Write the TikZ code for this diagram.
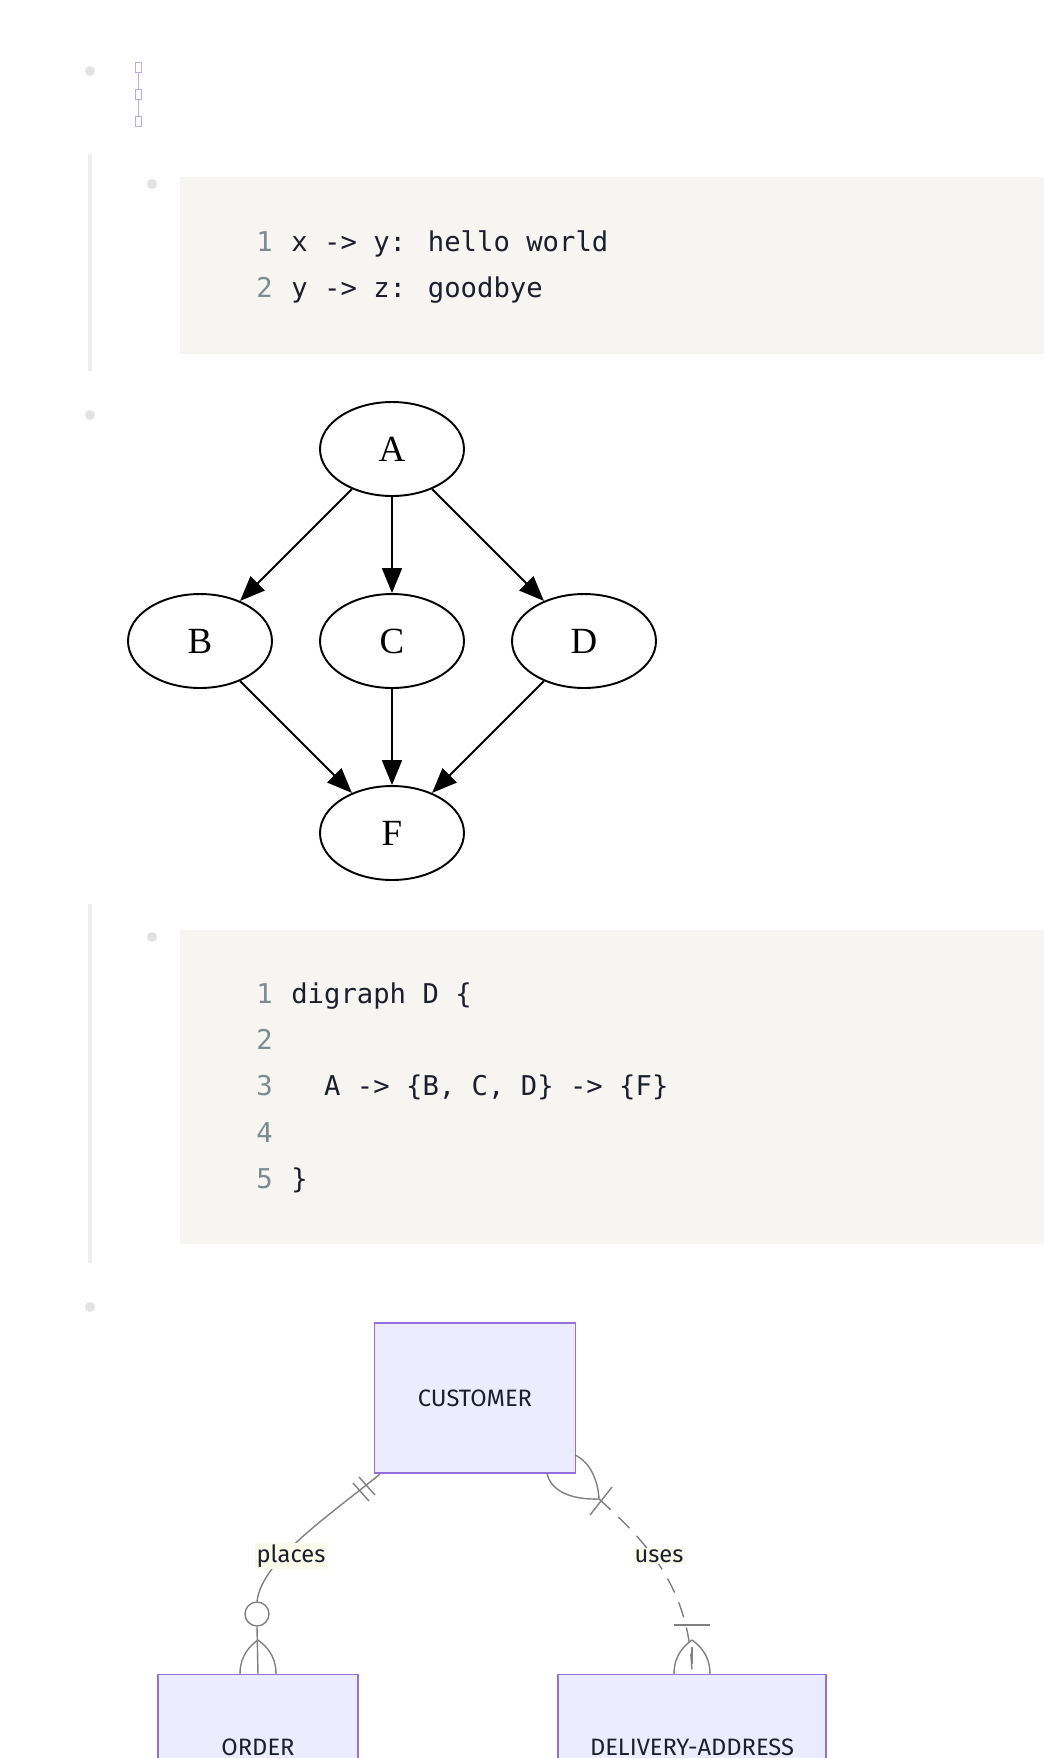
\documentclass[tikz,border=0pt]{standalone}
\usepackage{fontspec}
\setmainfont{Liberation Serif}
\newfontfamily\codefont{DejaVu Sans Mono}
\newfontfamily\erfont{Fira Sans}
\usetikzlibrary{arrows.meta,shapes.geometric}
\definecolor{codebg}{HTML}{F6F5F2}
\definecolor{lineno}{HTML}{7D8B8F}
\definecolor{codetxt}{HTML}{1A1F2B}
\definecolor{dotgrey}{HTML}{E2E2E2}
\definecolor{barc}{HTML}{EEEEEE}
\definecolor{erfill}{HTML}{ECECFF}
\definecolor{erline}{HTML}{9370DB}
\definecolor{relc}{HTML}{808080}
\definecolor{lblbg}{HTML}{FBFBEC}
\tikzset{
  bullet/.style={circle, fill=dotgrey, inner sep=0pt, minimum size=0.2cm},
  codeline/.style={anchor=base west, inner sep=0pt, font=\codefont\fontsize{15.5}{18}\selectfont, text=codetxt},
  lineno/.style={codeline, text=lineno},
  gnode/.style={ellipse, draw, line width=1.1pt, minimum width=2.88cm, minimum height=1.88cm, inner sep=0pt, font=\fontsize{21}{24}\selectfont},
  garr/.style={line width=1.1pt, -{Triangle[length=0.5cm,width=0.4cm]}},
  erfnt/.style={font=\erfont\fontsize{13.5}{16}\selectfont, text=codetxt},
  entity/.style={rectangle, draw=erline, fill=erfill, line width=0.8pt, inner sep=0pt, erfnt},
  rel/.style={draw=relc, line width=0.8pt},
  rlabel/.style={fill=lblbg, inner sep=1pt, erfnt}
}
\begin{document}
\begin{tikzpicture}[x=0.02cm, y=-0.02cm]
		\useasboundingbox (0,0) rectangle (1044,1758);
		% Paths, nodes and wires:
		\node[bullet] (b1) at (90,71){};
		\foreach \yy in {67,94,121}
			\draw[erline!60, line width=0.4pt] (135,\yy-5) rectangle (141,\yy+5);
		\draw[erline!60, line width=0.4pt] (138,72) -- (138,89) (138,99) -- (138,116);
		% first code block
		\fill[barc] (88,154) rectangle (92,371);
		\node[bullet] (b2) at (152,184){};
		\fill[codebg] (180,177) rectangle (1044,354);
		\node[lineno] (n1) at (256,251){1};
		\node[codeline] (c1) at (291,251){x -> y: hello world};
		\node[lineno] (n2) at (256,297){2};
		\node[codeline] (c2) at (291,297){y -> z: goodbye};
		% graph
		\node[bullet] (b3) at (90,415){};
		\node[gnode] (A) at (392,449){A};
		\node[gnode] (B) at (200,641){B};
		\node[gnode] (C) at (392,641){C};
		\node[gnode] (D) at (584,641){D};
		\node[gnode] (F) at (392,833){F};
		\draw[garr] (A) -- (B);
		\draw[garr] (A) -- (C);
		\draw[garr] (A) -- (D);
		\draw[garr] (B) -- (F);
		\draw[garr] (C) -- (F);
		\draw[garr] (D) -- (F);
		% second code block
		\fill[barc] (88,904) rectangle (92,1263);
		\node[bullet] (b4) at (152,937){};
		\fill[codebg] (180,930) rectangle (1044,1244);
		\node[lineno] (m1) at (256,1003){1};
		\node[codeline] (d1) at (291,1003){digraph D \{};
		\node[lineno] (m2) at (256,1049){2};
		\node[lineno] (m3) at (256,1095){3};
		\node[codeline] (d3) at (291,1095){\ \ A -> \{B, C, D\} -> \{F\}};
		\node[lineno] (m4) at (256,1142){4};
		\node[lineno] (m5) at (256,1188){5};
		\node[codeline] (d5) at (291,1188){\}};
		% entity relationship
		\node[bullet] (b5) at (90,1307){};
		\node[entity, minimum width=4.02cm, minimum height=3cm] (cust) at (475,1398){CUSTOMER};
		\node[entity, minimum width=4cm, minimum height=3cm, anchor=north] (ord) at (258,1674){};
		\node[entity, minimum width=5.36cm, minimum height=3cm, anchor=north] (addr) at (692,1674){};
		\node[erfnt] (ordl) at (258,1747){ORDER};
		\node[erfnt] (addrl) at (692,1747){DELIVERY-ADDRESS};
		\coordinate (p1) at (380,1474);
		\node[circle, rel, fill=white, minimum size=0.48cm, inner sep=0pt] (oc) at (257,1614){};
		\draw[rel] (p1) .. controls (330,1515) and (262,1560) .. (oc.north);
		\draw[rel] (oc.south) -- (ord.north);
		\draw[rel] (359,1477) -- (375,1495) (353,1483) -- (369,1501);
		\draw[rel] (258,1640) .. controls (244,1650) and (240,1662) .. (240,1674);
		\draw[rel] (258,1640) .. controls (272,1650) and (276,1662) .. (276,1674);
		\node[rlabel] (lp) at (291,1556){places};
		\coordinate (p2) at (599,1499);
		\draw[rel, dash pattern=on 9pt off 6pt] (p2) .. controls (650,1545) and (690,1590) .. (addr.north);
		\draw[rel] (p2) .. controls (570,1500) and (550,1490) .. (547,1473);
		\draw[rel] (p2) .. controls (598,1480) and (590,1462) .. (575,1455);
		\draw[rel] (590,1515) -- (612,1487);
		\draw[rel] (674,1625) -- (710,1625);
		\draw[rel] (692,1640) .. controls (678,1650) and (674,1662) .. (674,1674);
		\draw[rel] (692,1640) .. controls (706,1650) and (710,1662) .. (710,1674);
		\draw[rel] (692,1647) -- (692,1664);
		\node[rlabel] (lu) at (659,1556){uses};
	\end{tikzpicture}
\end{document}
